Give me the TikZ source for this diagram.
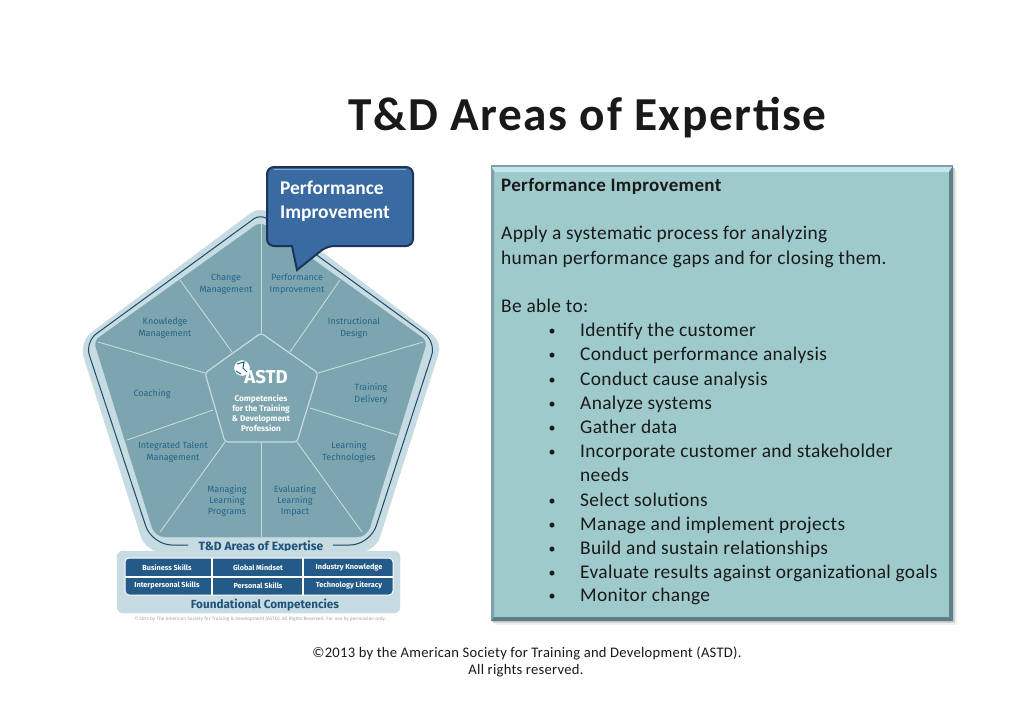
\documentclass[tikz,border=0pt]{standalone}
\usepackage{fontspec}
\setmainfont{Carlito}
\newfontfamily\dinfont{Fira Sans}
\newfontfamily\widefont[LetterSpace=1.8]{Carlito}
\newfontfamily\titlefont[LetterSpace=3.4]{Carlito}
\usetikzlibrary{calc}
\definecolor{wheelfill}{HTML}{7DA5AF}
\definecolor{wheelband}{HTML}{C6DBE2}
\definecolor{wheelline}{HTML}{1D4A68}
\definecolor{wheellabel}{HTML}{21648A}
\definecolor{cellblue}{HTML}{235A88}
\definecolor{titleblue}{HTML}{1F5379}
\definecolor{boxfill}{HTML}{9FCACB}
\definecolor{boxtop}{HTML}{C3E6E8}
\definecolor{boxleft}{HTML}{7F9FAE}
\definecolor{boxright}{HTML}{5F818A}
\definecolor{boxbottom}{HTML}{5C7D85}
\definecolor{calloutfill}{HTML}{3A6AA2}
\definecolor{calloutline}{HTML}{1A3557}
\tikzset{
	x=1pt, y=-1pt,
	spoke/.style={line width=0.9pt, color=wheelband},
	wheeltext/.style={font=\dinfont\fontsize{9}{11.2}\selectfont, text=wheellabel, align=center, inner sep=0},
	celltext/.style={font=\dinfont\bfseries\fontsize{7.3}{8}\selectfont, text=white, inner sep=0},
	boxtext/.style={anchor=base west, font=\widefont\fontsize{19.4}{24}\selectfont, text=black!90, inner sep=0},
	dottext/.style={anchor=base, font=\fontsize{14}{24}\selectfont, text=black!90, inner sep=0},
	notetext/.style={font=\widefont\fontsize{14.6}{18}\selectfont, text=black!90, inner sep=0},
	calloutext/.style={anchor=base west, font=\bfseries\fontsize{19.4}{24}\selectfont, text=white, inner sep=0},
}
\begin{document}
\begin{tikzpicture}
	%%%%% START %%%%%
	\useasboundingbox[fill=white] (0, 0) rectangle (1024, 724);

	\node[anchor=base, font=\titlefont\bfseries\fontsize{47.3}{52}\selectfont, text=black!90, inner sep=0] (title) at (587.5, 130) {T\&D Areas of Expertise};

	% wheel
	\draw[fill=wheelband, color=wheelband, rounded corners=16] (260.5, 206) [rounded corners=12] -- (442, 342) [rounded corners=16] -- (375, 552) -- (146, 552) -- (79, 342) [rounded corners=12] -- cycle;
	\draw[line width=1pt, color=wheelline] (188, 545) [rounded corners=20] -- (152, 545) [rounded corners=14] -- (85, 342) [rounded corners=8] -- (260.5, 214) [rounded corners=14] -- (436, 342) [rounded corners=20] -- (370, 545) [sharp corners] -- (333, 545);
	\draw[fill=wheelfill, color=wheelfill, rounded corners=6] (260.5, 222) -- (427, 341) [rounded corners=10] -- (367, 537) -- (155, 537) [rounded corners=6] -- (94, 341) -- cycle;

	\draw[spoke] (261, 223) -- (261, 333);
	\draw[spoke] (180, 280) -- (232, 352);
	\draw[spoke] (340, 280) -- (290, 352);
	\draw[spoke] (98, 342) -- (205, 373);
	\draw[spoke] (423, 342) -- (318, 373);
	\draw[spoke] (127, 440) -- (213, 410);
	\draw[spoke] (397, 435) -- (310, 408);
	\draw[spoke] (160, 532) -- (225, 442);
	\draw[spoke] (362, 532) -- (297, 442);
	\draw[spoke] (261, 442) -- (261, 537);
	\draw[line width=1.2pt, color=wheelband, rounded corners=3] (261, 333) -- (318, 373) -- (297, 442) -- (225, 442) -- (205, 373) -- cycle;

	\node[wheeltext] (change) at (226, 284) {Change\\Management};
	\node[wheeltext] (perf) at (297, 284) {Performance\\Improvement};
	\node[wheeltext] (knowledge) at (165, 328) {Knowledge\\Management};
	\node[wheeltext] (design) at (354, 328) {Instructional\\Design};
	\node[wheeltext] (coaching) at (152, 394) {Coaching};
	\node[wheeltext] (delivery) at (371, 394) {Training\\Delivery};
	\node[wheeltext] (talent) at (173, 452) {Integrated Talent\\Management};
	\node[wheeltext] (tech) at (349, 452) {Learning\\Technologies};
	\node[wheeltext] (programs) at (227, 501) {Managing\\Learning\\Programs};
	\node[wheeltext] (impact) at (295, 501) {Evaluating\\Learning\\Impact};

	% logo
	\draw[fill=white, color=white] (242, 368) circle (7.5);
	\draw[line width=1pt, color=wheellabel] (237, 364) -- (244, 362) -- (243, 368) -- (247, 372);
	\draw[line width=1pt, color=wheellabel] (236, 371) -- (241, 374);
	\node[font=\dinfont\bfseries\fontsize{18.6}{20}\selectfont, text=white, inner sep=0] (astd) at (266, 377) {ASTD};
	\node[font=\dinfont\bfseries\fontsize{8.2}{10}\selectfont, text=white, align=center, inner sep=0] (centre) at (261, 413) {Competencies\\for the Training\\\& Development\\Profession};

	\node[font=\dinfont\bfseries\fontsize{12}{14}\selectfont, text=titleblue, inner sep=0] (areas) at (261, 547) {T\&D Areas of Expertise};

	% foundational competencies
	\draw[fill=wheelband, color=wheelband, rounded corners=6] (117, 551) rectangle (400, 613);
	\draw[fill=cellblue, draw=white, line width=1pt, rounded corners=4] (125, 558) rectangle (393, 595);
	\draw[color=white, line width=1.4pt] (212, 558) -- (212, 595);
	\draw[color=white, line width=1.4pt] (303, 558) -- (303, 595);
	\draw[color=white, line width=1.4pt] (125, 577) -- (393, 577);
	\node[celltext] (business) at (167, 568) {Business Skills};
	\node[celltext] (mindset) at (258, 568) {Global Mindset};
	\node[celltext] (industry) at (349, 568) {Industry Knowledge};
	\node[celltext] (interpersonal) at (167, 585.5) {Interpersonal Skills};
	\node[celltext] (personal) at (258, 585.5) {Personal Skills};
	\node[celltext] (literacy) at (349, 585) {Technology Literacy};
	\node[font=\dinfont\bfseries\fontsize{11.7}{14}\selectfont, text=titleblue, inner sep=0] (found) at (265, 605) {Foundational Competencies};
	\node[font=\dinfont\fontsize{4.8}{6}\selectfont, text=black!35, inner sep=0] (fine) at (260, 619) {\copyright{} 2013 by The American Society for Training \& Development (ASTD). All Rights Reserved. For use by permission only.};

	% callout
	\draw[line width=2pt, color=calloutline, fill=calloutfill, rounded corners=7] (267, 167) -- (413, 167) -- (413, 246) -- (327, 246) [sharp corners] -- (297, 270) -- (292, 246) [rounded corners=7] -- (267, 246) -- cycle;
	\draw[line width=1.2pt, color=calloutfill!60!white] (274, 169.5) -- (406, 169.5);
	\node[calloutext] (calloutA) at (280, 194) {Performance};
	\node[calloutext] (calloutB) at (280, 218) {Improvement};

	% text box
	\fill[black!6] (495, 170) rectangle (957, 625);
	\fill[black!18] (493, 168) rectangle (955, 623);
	\fill[boxfill] (491, 166) rectangle (953, 621);
	\fill[boxleft] (491, 165) rectangle (953, 167);
	\fill[boxtop] (492, 167) -- (952, 167) -- (949, 172) -- (495, 172) -- cycle;
	\fill[boxleft] (491, 166) -- (494, 172) -- (494, 618) -- (491, 621) -- cycle;
	\fill[boxright] (953, 166) -- (949, 172) -- (949, 617) -- (953, 621) -- cycle;
	\fill[boxbottom] (491, 621) -- (494, 617) -- (949, 617) -- (953, 621) -- cycle;

	\node[boxtext, font=\widefont\bfseries\fontsize{19}{24}\selectfont] (boxhead) at (501, 191) {Performance Improvement};
	\node[boxtext] (apply) at (501, 239) {Apply a systematic process for analyzing};
	\node[boxtext] (human) at (501, 264) {human performance gaps and for closing them.};
	\node[boxtext] (able) at (501, 312) {Be able to:};

	\node[dottext] (dotA) at (552, 335) {•};
	\node[boxtext] (itemA) at (580, 336) {Identify the customer};
	\node[dottext] (dotB) at (552, 359) {•};
	\node[boxtext] (itemB) at (580, 360) {Conduct performance analysis};
	\node[dottext] (dotC) at (552, 384) {•};
	\node[boxtext] (itemC) at (580, 385) {Conduct cause analysis};
	\node[dottext] (dotD) at (552, 408) {•};
	\node[boxtext] (itemD) at (580, 409) {Analyze systems};
	\node[dottext] (dotE) at (552, 432) {•};
	\node[boxtext] (itemE) at (580, 433) {Gather data};
	\node[dottext] (dotF) at (552, 456) {•};
	\node[boxtext] (itemF) at (580, 457) {Incorporate customer and stakeholder};
	\node[boxtext] (itemFb) at (580, 481) {needs};
	\node[dottext] (dotG) at (552, 505) {•};
	\node[boxtext] (itemG) at (580, 506) {Select solutions};
	\node[dottext] (dotH) at (552, 529) {•};
	\node[boxtext] (itemH) at (580, 530) {Manage and implement projects};
	\node[dottext] (dotI) at (552, 553) {•};
	\node[boxtext] (itemI) at (580, 554) {Build and sustain relationships};
	\node[dottext] (dotJ) at (552, 577) {•};
	\node[boxtext] (itemJ) at (580, 578) {Evaluate results against organizational goals};
	\node[dottext] (dotK) at (552, 600) {•};
	\node[boxtext] (itemK) at (580, 601) {Monitor change};

	\node[notetext] (noteA) at (527, 653) {\copyright2013 by the American Society for Training and Development (ASTD).};
	\node[notetext] (noteB) at (526, 671) {All rights reserved.};
	%%%%% END %%%%%
\end{tikzpicture}
\end{document}
